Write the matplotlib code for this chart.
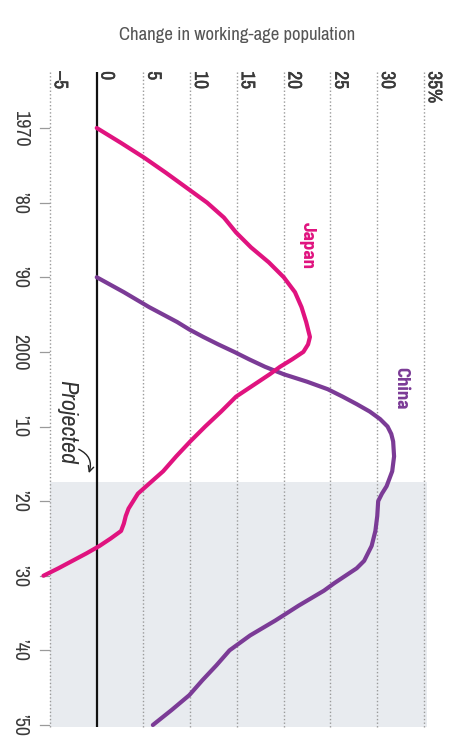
import matplotlib
matplotlib.use("Agg")
import matplotlib.pyplot as plt
import matplotlib.patheffects as pe

# ---- data ----
japan_years = [1970, 1972, 1974, 1976, 1978, 1980, 1982, 1984, 1986, 1988, 1990, 1992, 1994,
               1996, 1998, 1999, 2000, 2001, 2002, 2003, 2004, 2005, 2006, 2008, 2010, 2012,
               2014, 2016, 2018, 2019, 2020, 2021, 2022, 2023, 2024, 2025, 2026, 2027, 2028,
               2029, 2030]
japan_vals = [0.0, 2.6, 5.1, 7.4, 9.6, 11.8, 13.6, 14.9, 16.5, 18.4, 20.0, 21.2, 21.9,
              22.4, 22.8, 22.6, 22.1, 20.9, 19.6, 18.5, 17.3, 16.1, 14.9, 13.3, 11.6, 10.0,
              8.5, 7.1, 5.3, 4.4, 3.9, 3.4, 3.1, 2.9, 2.6, 1.5, 0.3, -1.1, -2.6,
              -4.1, -5.7]

china_years = [1990, 1992, 1994, 1996, 1997, 1998, 1999, 2000, 2001, 2002, 2003, 2004, 2005,
               2006, 2007, 2008, 2009, 2010, 2011, 2012, 2014, 2016, 2018, 2019, 2020, 2022,
               2024, 2026, 2028, 2029, 2030, 2031, 2032, 2034, 2036, 2038, 2040, 2042, 2044,
               2046, 2048, 2050]
china_vals = [0.0, 2.9, 5.6, 8.6, 9.9, 11.4, 13.0, 14.7, 16.3, 18.0, 20.0, 22.5, 24.7,
              26.3, 27.8, 29.2, 30.3, 31.1, 31.5, 31.7, 31.8, 31.6, 31.0, 30.5, 30.1, 30.0,
              29.8, 29.4, 28.6, 27.8, 26.6, 25.4, 24.3, 21.6, 19.1, 16.4, 14.2, 12.8, 11.3,
              9.9, 8.0, 6.0]

value_ticks = [-5, 0, 5, 10, 15, 20, 25, 30, 35]
value_labels = ['–5', '0', '5', '10', '15', '20', '25', '30', '35%']
year_ticks = [1970, 1980, 1990, 2000, 2010, 2020, 2030, 2040, 2050]
year_labels = ['1970', '’80', '’90', '2000', '’10', '’20', '’30', '’40', '’50']
projection_start = 2017.5

# ---- style ----
FONT = ['Archivo Narrow', 'Liberation Sans Narrow', 'DejaVu Sans']
BOLD_FONT = ['Barlow Semi Condensed', 'Archivo Narrow', 'DejaVu Sans']
JAPAN_C = '#e0137f'
CHINA_C = '#7b3b96'
GRID_C = '#9a9a9a'
TEXT_C = '#3a3a3a'

W, H = 474, 755
fig = plt.figure(figsize=(W / 100, H / 100), dpi=100)
ax = fig.add_axes([0, 0, 1, 1])
ax.set_axis_off()

# pixel mapping: value -5 -> px 50, 35 -> px 424 ; year 1970 -> px 128, 2050 -> px 725
ppv = (424 - 50) / 40.0
ppy = (725 - 128) / 80.0
ax.set_xlim(-5 - 50 / ppv, -5 + (W - 50) / ppv)
ax.set_ylim(1970 + (H - 128) / ppy, 1970 - 128 / ppy)

top_year = 1970 - (128 - 72) / ppy
bot_year = 2050.3

# projected shading
ax.fill_between([-5, 35.3], projection_start, bot_year, color='#e8ebef', zorder=0, lw=0)

# gridlines
for v in value_ticks:
    if v == 0:
        ax.plot([v, v], [top_year, bot_year], color='#111111', lw=1.6, zorder=3,
                solid_capstyle='butt')
    else:
        ax.plot([v, v], [top_year, bot_year], color=GRID_C, lw=1.0,
                linestyle=(0, (1, 1.6)), zorder=1)

# value labels (rotated)
for v, lab in zip(value_ticks, value_labels):
    ax.text(v + 1.1, top_year - 0.1, lab, rotation=-90, rotation_mode='anchor',
            ha='left', va='center', fontsize=14, color=TEXT_C, family=FONT,
            path_effects=[pe.withStroke(linewidth=0.35, foreground=TEXT_C)])

# year ticks and labels
for yv, lab in zip(year_ticks, year_labels):
    ax.plot([-6.05, -5.1], [yv, yv], color=GRID_C, lw=0.9, zorder=2)
    ax.text(-8.2, yv, lab, rotation=-90, rotation_mode='anchor',
            ha='center', va='center', fontsize=14.5, color=TEXT_C, family=FONT)

# lines
ax.plot(japan_vals, japan_years, color=JAPAN_C, lw=3.0, zorder=5,
        solid_joinstyle='round', solid_capstyle='round')
ax.plot(china_vals, china_years, color=CHINA_C, lw=3.0, zorder=4,
        solid_joinstyle='round', solid_capstyle='round')

# labels
ax.text(22.5, 1985.8, 'Japan', rotation=-90, rotation_mode='anchor', ha='center',
        va='center', fontsize=13.5, fontweight='bold', color=JAPAN_C, family=BOLD_FONT)
ax.text(32.5, 2004.8, 'China', rotation=-90, rotation_mode='anchor', ha='center',
        va='center', fontsize=13.5, fontweight='bold', color=CHINA_C, family=BOLD_FONT)
ax.text(-3.2, 2009.4, 'Projected', rotation=-90, rotation_mode='anchor', ha='center',
        va='center', fontsize=17.5, style='italic', color='#333333', family=FONT)
ax.annotate('', xy=(-0.95, 2016.6), xytext=(-2.2, 2012.9),
            arrowprops=dict(arrowstyle='->', color='#222222', lw=1.0,
                            connectionstyle='arc3,rad=-0.5'))

fig.text(0.5, 1 - 35 / H, 'Change in working-age population', ha='center', va='center',
         fontsize=13.5, color='#555555', family=FONT)

fig.savefig('out.png', dpi=100)
